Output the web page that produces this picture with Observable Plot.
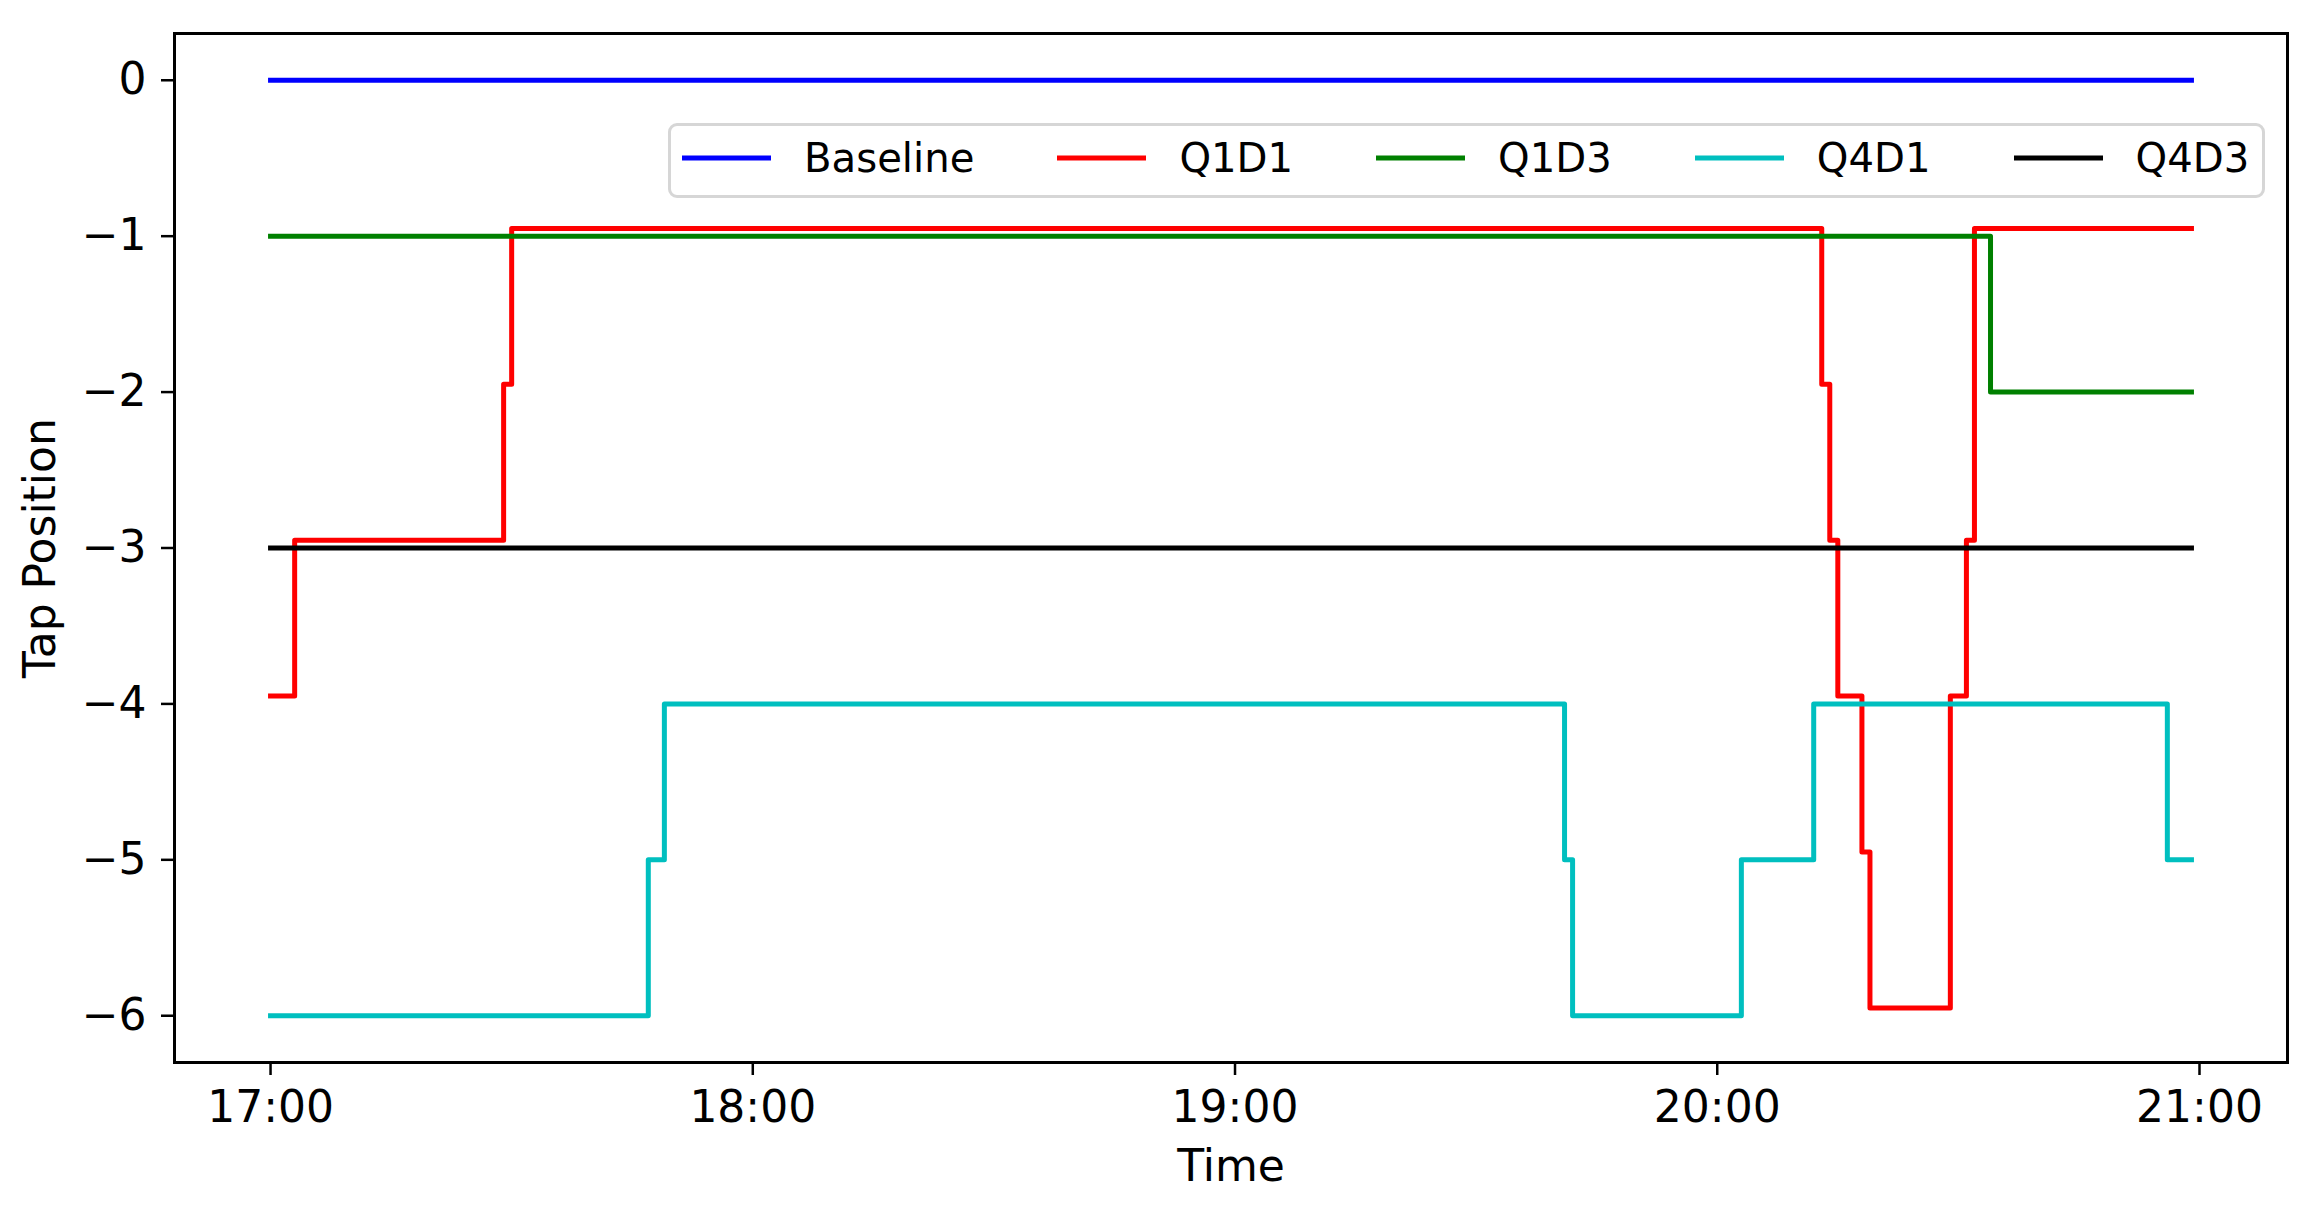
<!DOCTYPE html>
<html>
<head>
<meta charset="utf-8">
<script src="https://cdn.jsdelivr.net/npm/d3@7"></script>
<script src="https://cdn.jsdelivr.net/npm/@observablehq/plot@0.6"></script>
<style>
  html, body { margin: 0; padding: 0; background: #ffffff; }
  #wrap { position: relative; width: 2324px; height: 1211px; font-family: "DejaVu Sans", sans-serif; }
  #legend {
    position: absolute; left: 668px; top: 123px; width: 1597px; height: 75px;
    box-sizing: border-box; border: 3px solid #d6d6d6; border-radius: 9px; background: rgba(255,255,255,0.8);
    display: flex; align-items: center; padding-left: 11px; padding-bottom: 5px; gap: 83px;
    font-family: "DejaVu Sans", sans-serif; font-size: 40.2px; color: #000;
  }
  .item { display: flex; align-items: center; }
  .item svg { margin-right: 33px; }
</style>
</head>
<body>
<div id="wrap"></div>
<script>
// ---- data ----
const seriesNames = ["Baseline", "Q1D1", "Q1D3", "Q4D1", "Q4D3"];
const seriesColors = ["#0000ff", "#ff0000", "#008000", "#00bfbf", "#000000"];

const baselineTimes = ["17:00", "20:59"];
const baselineValues = [0, 0];

const q1d1Times = ["17:00", "17:03", "17:29", "17:30", "20:13", "20:14", "20:15", "20:18", "20:19", "20:29", "20:31", "20:32", "20:59"];
const q1d1Values = [-3.95, -2.95, -1.95, -0.95, -1.95, -2.95, -3.95, -4.95, -5.95, -3.95, -2.95, -0.95, -0.95];

const q1d3Times = ["17:00", "20:34", "20:59"];
const q1d3Values = [-1, -2, -2];

const q4d1Times = ["17:00", "17:47", "17:49", "19:41", "19:42", "20:03", "20:12", "20:56", "20:59"];
const q4d1Values = [-6, -5, -4, -5, -6, -5, -4, -5, -5];

const q4d3Times = ["17:00", "20:59"];
const q4d3Values = [-3, -3];

const xTickLabels = ["17:00", "18:00", "19:00", "20:00", "21:00"];
const yTicks = [0, -1, -2, -3, -4, -5, -6];

// ---- build table ----
const toDate = (t) => new Date(`2020-01-01T${t}:00Z`);
const allTimes = [baselineTimes, q1d1Times, q1d3Times, q4d1Times, q4d3Times];
const allValues = [baselineValues, q1d1Values, q1d3Values, q4d1Values, q4d3Values];
const tables = seriesNames.map((name, i) =>
  allTimes[i].map((t, j) => ({series: name, time: toDate(t), value: allValues[i][j]})));

// matplotlib-like 5% margins
const flat = tables.flat();
const [t0, t1] = d3.extent(flat, d => +d.time);
const tPad = (t1 - t0) * 0.05;
const yInts = [0, -6];
const yPad = (yInts[0] - yInts[1]) * 0.05;

const plot = Plot.plot({
  width: 2324,
  height: 1211,
  marginLeft: 174,
  marginRight: 37,
  marginTop: 33,
  marginBottom: 149,
  style: {fontFamily: "DejaVu Sans, sans-serif", fontSize: "44px", background: "#ffffff", color: "#000"},
  x: {type: "utc", domain: [new Date(t0 - tPad), new Date(t1 + tPad)]},
  y: {domain: [yInts[1] - yPad, yInts[0] + yPad]},
  marks: [
    ...tables.map((rows, i) => Plot.line(rows, {
      x: "time", y: "value", curve: "step-after",
      stroke: seriesColors[i], strokeWidth: 5,
      strokeLinecap: "square", strokeLinejoin: "round"
    })),
    Plot.axisX({
      ticks: xTickLabels.map(toDate),
      tickFormat: d3.utcFormat("%H:%M"),
      tickSize: 13, tickPadding: 15, strokeWidth: 2.5, fontSize: 44,
      label: "Time", labelAnchor: "center", labelOffset: 118, labelArrow: "none"
    }),
    Plot.axisY({
      ticks: yTicks,
      tickFormat: d3.format("d"),
      tickSize: 13, tickPadding: 15, strokeWidth: 2.5, fontSize: 44,
      label: "Tap Position", labelAnchor: "center", labelOffset: 151, labelArrow: "none"
    }),
    Plot.frame({stroke: "#000", strokeWidth: 3})
  ]
});

const wrap = document.getElementById("wrap");
wrap.appendChild(plot);

// legend (matplotlib-style, upper right inside axes)
const legend = document.createElement("div");
legend.id = "legend";
seriesNames.forEach((name, i) => {
  const item = document.createElement("div");
  item.className = "item";
  item.innerHTML = `<svg width="89" height="12"><line x1="0" x2="89" y1="6" y2="6" stroke="${seriesColors[i]}" stroke-width="5"/></svg><span>${name}</span>`;
  legend.appendChild(item);
});
wrap.appendChild(legend);
</script>
</body>
</html>
